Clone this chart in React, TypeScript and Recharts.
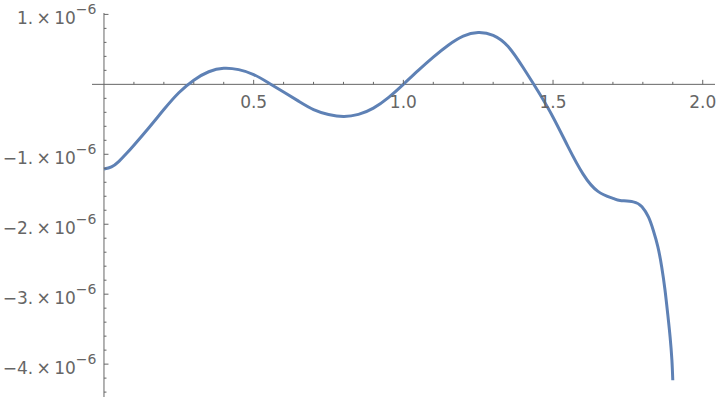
import { LineChart, Line, XAxis, YAxis, ReferenceLine, ReferenceDot } from "recharts";

// curve samples, y in units of 1e-6
const xs = [
  0, 0.025, 0.05, 0.075, 0.1, 0.15, 0.2, 0.25, 0.3, 0.35, 0.4, 0.45, 0.5, 0.55, 0.6, 0.65,
  0.7, 0.75, 0.8, 0.85, 0.9, 0.95, 1.0, 1.05, 1.1, 1.15, 1.2, 1.25, 1.3, 1.35, 1.4, 1.45,
  1.5, 1.55, 1.6, 1.65, 1.7, 1.724, 1.768, 1.797, 1.819, 1.835, 1.85, 1.863, 1.874, 1.883,
  1.891, 1.897, 1.9,
];
const ys = [
  -1.21, -1.18, -1.1, -0.99, -0.87, -0.62, -0.36, -0.12, 0.06, 0.18, 0.23, 0.21, 0.14, 0.02, -0.11, -0.24,
  -0.36, -0.43, -0.46, -0.43, -0.34, -0.19, 0, 0.2, 0.39, 0.56, 0.69, 0.74, 0.7, 0.54, 0.24, -0.1,
  -0.47, -0.89, -1.28, -1.53, -1.63, -1.66, -1.68, -1.75, -1.9, -2.09, -2.32, -2.61, -2.94, -3.28,
  -3.61, -3.94, -4.23,
];

const xMajorTicks = [0.5, 1.0, 1.5, 2.0];
const xMinorTicks = [0.1, 0.2, 0.3, 0.4, 0.6, 0.7, 0.8, 0.9, 1.1, 1.2, 1.3, 1.4, 1.6, 1.7, 1.8, 1.9];
const yMajorTicks = [1, -1, -2, -3, -4];
const yMinorTicks = [0.8, 0.6, 0.4, 0.2, -0.2, -0.4, -0.6, -0.8, -1.2, -1.4, -1.6, -1.8, -2.2, -2.4, -2.6, -2.8, -3.2, -3.4, -3.6, -3.8, -4.2, -4.4];

const data = xs.map((x, i) => ({ x, y: ys[i] }));

const AXIS = "#666666";
const FONT = "'DejaVu Sans', sans-serif";

function xTickShape(label: string | null) {
  return (p: any) => (
    <g>
      <line x1={p.cx} y1={p.cy} x2={p.cx} y2={p.cy - (label ? 4.5 : 2.5)} stroke={AXIS} strokeWidth={1} />
      {label && (
        <text x={p.cx} y={p.cy + 24} textAnchor="middle" fill={AXIS} fontSize={17} fontFamily={FONT}>
          {label}
        </text>
      )}
    </g>
  );
}

function yTickShape(value: number | null) {
  return (p: any) => (
    <g>
      <line x1={p.cx} y1={p.cy} x2={p.cx + (value !== null ? 4.5 : 2.5)} y2={p.cy} stroke={AXIS} strokeWidth={1} />
      {value !== null && (
        <text x={p.cx - 7.5} y={p.cy + 9.7} textAnchor="end" fill={AXIS} fontSize={17} fontFamily={FONT}>
          {`${value < 0 ? "\u2212" : ""}${Math.abs(value)}.\u2009\u00d7\u200910`}
          <tspan dy={-9.7} fontSize={14}>
            {"\u22126"}
          </tspan>
        </text>
      )}
    </g>
  );
}

export default function App() {
  return (
    <div style={{ position: "absolute", left: 0, top: 0, background: "#fff" }}>
      <LineChart width={720} height={400} data={data} margin={{ top: 13, right: 5, bottom: 3, left: 92 }}>
        <XAxis dataKey="x" type="number" domain={[-0.04, 2.041]} allowDataOverflow hide />
        <YAxis type="number" domain={[-4.47, 1.02]} allowDataOverflow hide />
        <ReferenceLine y={0} stroke={AXIS} strokeWidth={1} />
        <ReferenceLine x={0} stroke={AXIS} strokeWidth={1} />
        {xMinorTicks.map((t) => (
          <ReferenceDot key={`xm${t}`} x={t} y={0} shape={xTickShape(null)} />
        ))}
        {xMajorTicks.map((t) => (
          <ReferenceDot key={`xM${t}`} x={t} y={0} shape={xTickShape(t.toFixed(1))} />
        ))}
        {yMinorTicks.map((t) => (
          <ReferenceDot key={`ym${t}`} x={0} y={t} shape={yTickShape(null)} />
        ))}
        {yMajorTicks.map((t) => (
          <ReferenceDot key={`yM${t}`} x={0} y={t} shape={yTickShape(t)} />
        ))}
        <Line
          type="natural"
          dataKey="y"
          stroke="#5e81b5"
          strokeWidth={3}
          dot={false}
          isAnimationActive={false}
        />
      </LineChart>
    </div>
  );
}
